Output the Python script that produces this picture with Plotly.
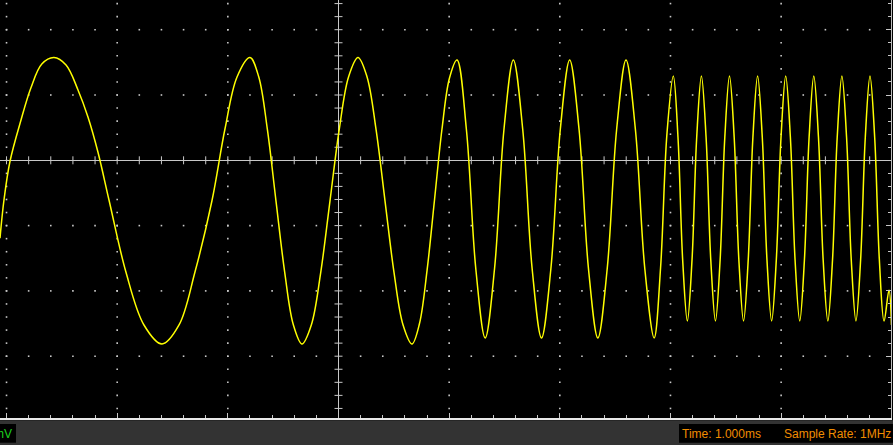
import numpy as np
import plotly.graph_objects as go

# ---- waveform samples (time in divisions, level in divisions) ----
time_div = [
    -3.059, -3.023, -2.968, -2.869, -2.780, -2.681, -2.571, -2.462, -2.354, -2.264,
    -2.174, -2.074, -1.921, -1.758, -1.595, -1.441, -1.297, -1.143, -1.026, -0.917,
    -0.800, -0.721, -0.643, -0.565, -0.486, -0.408, -0.330,
    -0.2449, -0.1605, -0.0768, 0.0072, 0.0914, 0.1762,
    0.2575, 0.3389, 0.4202, 0.5015, 0.5828, 0.6641,
    0.732, 0.800, 0.868, 0.935, 1.003,
    1.0709, 1.1558, 1.2406, 1.3255, 1.4103, 1.4952, 1.5800, 1.6649, 1.7497, 1.8346,
    1.9194, 2.0043, 2.0891, 2.1740, 2.2588, 2.3437, 2.4285, 2.5134, 2.5982, 2.6831,
    2.7679, 2.8528, 2.9104, 2.9679,
    3.0255, 3.0678, 3.1101, 3.1525, 3.1948, 3.2371, 3.2794, 3.3217, 3.3641, 3.4064,
    3.4487, 3.4910, 3.5333, 3.5757, 3.6180, 3.6603, 3.7026, 3.7449, 3.7873, 3.8296,
    3.8719, 3.9142, 3.9565, 3.9989, 4.0412, 4.0835, 4.1258, 4.1681, 4.2105, 4.2528,
    4.2951, 4.3374, 4.3797, 4.4221, 4.4644, 4.5067, 4.5490, 4.5913, 4.6337, 4.6760,
    4.7183, 4.7606, 4.8029, 4.8453, 4.8876, 4.9299, 4.9747, 4.997,
]
level_div = [
    -1.193, -0.608, -0.011, 0.617, 1.107, 1.475, 1.574, 1.459, 1.077, 0.663,
    0.127, -0.608, -1.711, -2.522, -2.813, -2.522, -1.711, -0.616, 0.479, 1.276,
    1.574, 1.280, 0.477, -0.620, -1.716, -2.519, -2.813,
    -2.519, -1.716, -0.620, 0.477, 1.280, 1.574,
    1.280, 0.477, -0.620, -1.716, -2.519, -2.813,
    -2.500, -1.690, -0.600, 0.475, 1.260,
    1.536, 0.472, -1.657, -2.721, -1.657, 0.472, 1.536, 0.472, -1.657, -2.721,
    -1.657, 0.472, 1.536, 0.472, -1.657, -2.721, -1.657, 0.472, 1.536, 0.472,
    -1.657, -2.721, -1.650, 0.400,
    1.291, 0.353, -1.523, -2.461, -1.523, 0.353, 1.291, 0.353, -1.523, -2.461,
    -1.523, 0.353, 1.291, 0.353, -1.523, -2.461, -1.523, 0.353, 1.291, 0.353,
    -1.523, -2.461, -1.523, 0.353, 1.291, 0.353, -1.523, -2.461, -1.523, 0.353,
    1.291, 0.353, -1.523, -2.461, -1.523, 0.353, 1.291, 0.353, -1.523, -2.461,
    -1.523, 0.353, 1.291, 0.353, -1.523, -2.461, -1.986, -2.522,
]

status_left = "mV"
status_time = "Time: 1.000ms"
status_rate = "Sample Rate: 1MHz"

X_RANGE = [-3.0589, 4.9928]
Y_RANGE = [-3.9464, 2.4548]

major_x = [-3, -2, -1, 1, 2, 3, 4]
major_y = [-3, -2, -1, 1, 2]
minor_x = [round(v, 3) for v in np.arange(-15, 25) * 0.2]
minor_y = [round(v, 3) for v in np.arange(-19, 13) * 0.2]

GRID = "#c8c8c8"

# dotted graticule
dots_x, dots_y = [], []
for gx in major_x:
    for my in minor_y:
        dots_x.append(gx)
        dots_y.append(my)
for gy in major_y:
    for mx in minor_x:
        if mx != 0:
            dots_x.append(mx)
            dots_y.append(gy)

# tick marks on the centre cross
W, H = 891, 418
xspan = X_RANGE[1] - X_RANGE[0]
yspan = Y_RANGE[1] - Y_RANGE[0]
half_h = 4 * yspan / H
half_w = 4 * xspan / W
tick_x, tick_y = [], []
for mx in minor_x:
    if mx != 0:
        tick_x += [mx, mx, None]
        tick_y += [-half_h, half_h, None]
for my in minor_y:
    if my != 0:
        tick_x += [-half_w, half_w, None]
        tick_y += [my, my, None]

fig = go.Figure()
fig.add_trace(go.Scatter(x=dots_x, y=dots_y, mode="markers",
                         marker=dict(symbol="square", size=1.6, color=GRID, line_width=0),
                         hoverinfo="skip"))
fig.add_trace(go.Scatter(x=tick_x, y=tick_y, mode="lines",
                         line=dict(color=GRID, width=1), hoverinfo="skip"))
fig.add_trace(go.Scatter(x=time_div, y=level_div, mode="lines",
                         line=dict(color="#ffff00", width=1.5, shape="spline"),
                         hoverinfo="skip"))

fig.update_xaxes(range=X_RANGE, showgrid=False, zeroline=True, zerolinecolor=GRID,
                 zerolinewidth=1, showticklabels=False, showline=True,
                 linecolor="#e8e8e8", linewidth=2, ticks="inside", ticklen=5,
                 tickcolor=GRID, tick0=0, dtick=1,
                 minor=dict(ticks="inside", ticklen=3, tickcolor=GRID, tick0=0,
                            dtick=0.2, showgrid=False),
                 fixedrange=True)
fig.update_yaxes(range=Y_RANGE, side="right", showgrid=False, zeroline=True,
                 zerolinecolor=GRID, zerolinewidth=1, showticklabels=False,
                 showline=True, linecolor="#bdbdbd", linewidth=1, ticks="inside",
                 ticklen=5, tickcolor=GRID, tick0=0, dtick=1,
                 minor=dict(ticks="inside", ticklen=3.5, tickcolor=GRID, tick0=0,
                            dtick=0.2, showgrid=False),
                 fixedrange=True)

def px_x(p):
    return p / W

def px_y(p):
    return (H - p) / H

shapes = [
    dict(type="rect", xref="paper", yref="paper", x0=0, x1=px_x(893),
         y0=px_y(445), y1=px_y(420.3), fillcolor="#333333", line_width=0, layer="above"),
    dict(type="rect", xref="paper", yref="paper", x0=0, x1=px_x(16),
         y0=px_y(442.7), y1=px_y(424), fillcolor="#000000", line_width=0, layer="above"),
    dict(type="rect", xref="paper", yref="paper", x0=px_x(679), x1=px_x(893),
         y0=px_y(442.7), y1=px_y(424), fillcolor="#000000", line_width=0, layer="above"),
]
font = "Liberation Sans, Arial, sans-serif"
annotations = [
    dict(text=status_left, xref="paper", yref="paper", x=px_x(13.5), y=px_y(433.5),
         xanchor="right", yanchor="middle", showarrow=False,
         font=dict(family=font, size=12, color="#1ed01e")),
    dict(text=status_time, xref="paper", yref="paper", x=px_x(680), y=px_y(433.5),
         xanchor="left", yanchor="middle", showarrow=False,
         font=dict(family=font, size=12, color="#f08c00")),
    dict(text=status_rate, xref="paper", yref="paper", x=px_x(781.5), y=px_y(433.5),
         xanchor="left", yanchor="middle", showarrow=False,
         font=dict(family=font, size=12, color="#f08c00")),
]

fig.update_layout(width=893, height=445, margin=dict(l=0, r=2, t=0, b=27, pad=0),
                  paper_bgcolor="#000000", plot_bgcolor="#000000", showlegend=False,
                  shapes=shapes, annotations=annotations, hovermode=False)

fig.write_html("out.html", config={"displayModeBar": False, "staticPlot": True},
               post_script="document.body.style.margin='0';document.body.style.overflow='hidden';")
